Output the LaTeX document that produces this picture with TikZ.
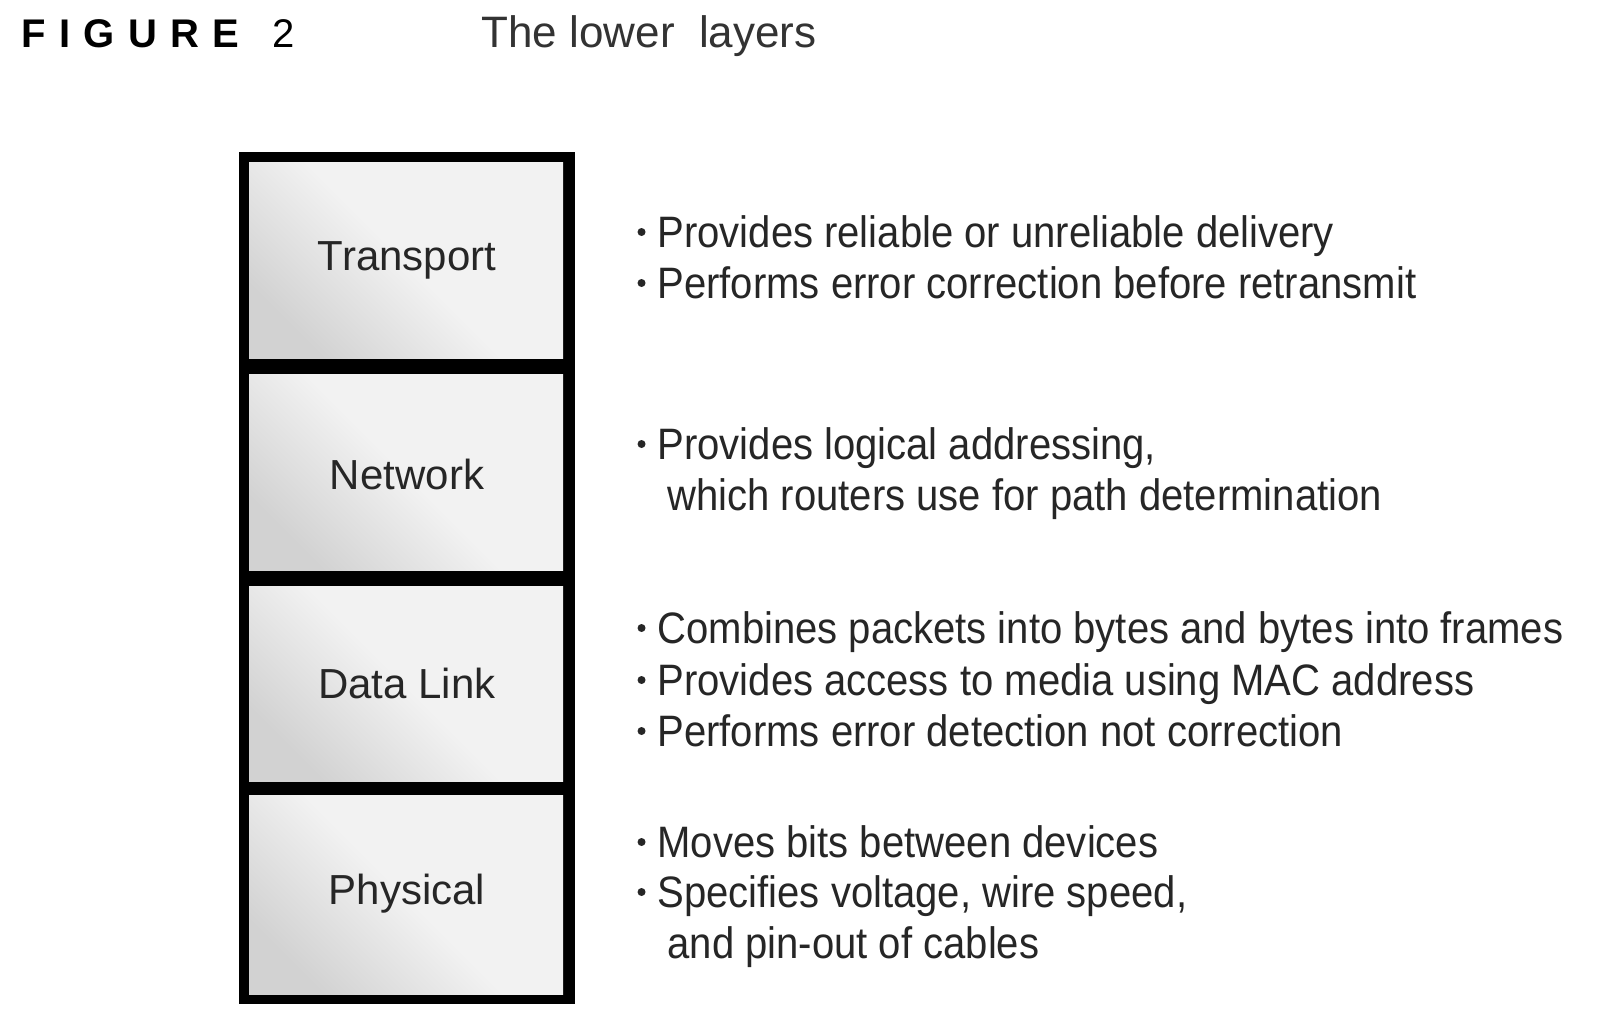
\documentclass[tikz,border=0pt]{standalone}
\usepackage{fontspec}
\setmainfont[FakeStretch=0.91]{Liberation Sans}
\newfontfamily\titlefont{Liberation Sans}
\begin{document}
\begin{tikzpicture}[x=1pt,y=-1pt,
  layer/.style={left color=gray!35,right color=gray!10,middle color=white!90!gray,shading angle=135},
  lname/.style={font=\titlefont\fontsize{42}{46}\selectfont,text=black!85},
  bl/.style={anchor=base west,font=\fontsize{44}{48}\selectfont,text=black!85}]
\useasboundingbox (0,0) rectangle (1600,1025);
\fill[white] (0,0) rectangle (1600,1025);
\node[anchor=base west,font=\titlefont\bfseries\fontsize{40}{44}\selectfont] (fig) at (18,48) {F\,\,I\,\,G\,\,U\,\,R\,\,E\ \ \ \mdseries 2};
\node[anchor=base west,font=\titlefont\fontsize{44}{48}\selectfont,text=black!80] (ttl) at (478,48) {The\ lower\ \ layers};
% layers
\fill[black] (239,152) rectangle (575,1004);
\shade[layer] (249,162) rectangle (563,358);
\shade[layer] (249,374) rectangle (563,570);
\shade[layer] (249,586) rectangle (563,781);
\shade[layer] (249,795) rectangle (563,994);
\node[lname] (t) at (407,260) {Transport};
\node[lname] (n) at (407,474) {Network};
\node[lname] (d) at (407,683) {Data Link};
\node[lname] (p) at (407,894) {Physical};
% bullets
\foreach \y/\t [count=\i] in {247/Provides reliable or unreliable delivery,
  298/Performs error correction before retransmit,
  459/{Provides logical addressing,},
  643/Combines packets into bytes and bytes into frames,
  695/Provides access to media using MAC address,
  746/Performs error detection not correction,
  857/Moves bits between devices,
  907/{Specifies voltage, wire speed,}}{
  \node[bl] (b\i) at (634,\y) {\raisebox{11pt}{\tikz\fill[black!85] circle (4pt);}\hspace{12pt}\t};
}
\node[bl] (c1) at (664,510) {which routers use for path determination};
\node[bl] (c2) at (664,958) {and pin-out of cables};
\end{tikzpicture}
\end{document}
